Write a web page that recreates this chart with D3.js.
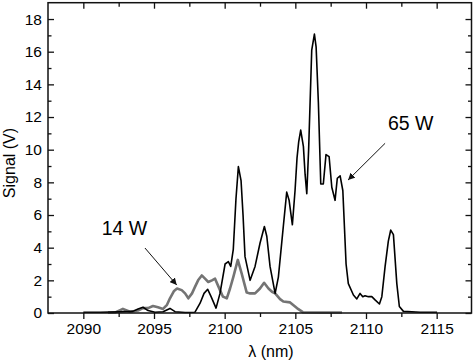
<!DOCTYPE html>
<html>
<head>
<meta charset="utf-8">
<script src="https://cdn.jsdelivr.net/npm/d3@7"></script>
<style>
  html, body { margin: 0; padding: 0; background: #fff; }
  svg text { font-family: Arial, "Liberation Sans", sans-serif; fill: #000; }
</style>
</head>
<body>
<svg id="chart" width="474" height="361"></svg>
<script>
// ---- data ----
const wl65 = [2090.0,2091.2,2092.6,2093.5,2093.87,2094.22,2094.58,2095.07,2095.64,2096.13,2096.49,2097.2,2097.9,
  2098.26,2098.54,2098.8,2099.04,2099.39,2099.67,2100.03,2100.26,2100.43,2100.61,2100.8,2100.97,2101.16,2101.3,
  2101.44,2101.8,2102.15,2102.5,2102.81,2102.98,2103.21,2103.57,2103.8,2104.15,2104.39,2104.56,2104.79,2104.98,
  2105.12,2105.24,2105.38,2105.57,2105.69,2105.81,2105.94,2106.16,2106.35,2106.47,2106.63,2106.8,2106.98,2107.17,
  2107.39,2107.58,2107.81,2107.97,2108.17,2108.36,2108.59,2108.75,2109.11,2109.35,2109.58,2109.77,2109.93,2110.17,
  2110.41,2110.64,2110.95,2111.12,2111.35,2111.58,2111.75,2111.94,2112.18,2112.36,2112.65,2113.83,2115.03];
const sig65 = [0.05,0.05,0.07,0.1,0.25,0.35,0.15,0.05,0.08,0.28,0.08,0.03,0.05,
  0.6,1.2,1.45,1.0,0.3,1.2,3.0,3.15,2.85,3.9,7.0,8.96,8.1,6.0,
  3.45,2.0,2.85,4.27,5.3,4.7,2.85,1.2,2.2,5.3,7.4,6.9,5.4,7.5,
  9.5,10.5,11.2,10.2,8.5,7.3,10.0,16.1,17.08,16.3,12.9,7.9,7.9,9.7,
  9.57,7.7,6.9,8.25,8.4,7.5,3.0,1.8,1.1,0.86,1.2,1.0,1.06,1.0,
  1.0,0.8,0.55,1.0,2.84,4.4,5.08,4.8,1.8,0.4,0.1,0.05,0.05];

const wl14 = [2091.75,2092.3,2092.8,2093.3,2093.87,2094.22,2094.58,2094.93,2095.28,2095.64,2095.92,2096.13,2096.42,
  2096.63,2096.96,2097.2,2097.43,2097.69,2097.9,2098.12,2098.38,2098.61,2098.84,2099.1,2099.32,2099.67,2099.88,
  2100.15,2100.38,2100.61,2100.93,2101.21,2101.56,2101.8,2102.15,2102.5,2102.79,2103.1,2103.35,2103.57,2103.92,
  2104.15,2104.63,2104.98,2105.19,2105.53,2106.75,2108.3];
const sig14 = [0.03,0.05,0.25,0.08,0.15,0.3,0.3,0.43,0.35,0.25,0.5,0.9,1.35,
  1.5,1.4,1.2,0.9,1.2,1.6,2.0,2.3,2.1,1.9,2.0,2.1,1.4,1.0,
  0.9,1.5,2.2,3.25,2.4,1.25,1.2,1.2,1.5,1.85,1.5,1.3,1.2,0.85,
  0.7,0.65,0.4,0.25,0.05,0.03,0.03];

const xMajor = [2090, 2095, 2100, 2105, 2110, 2115];
const xMinor = [2092.5, 2097.5, 2102.5, 2107.5, 2112.5];
const yMajor = [0, 2, 4, 6, 8, 10, 12, 14, 16, 18];
const yMinor = [1, 3, 5, 7, 9, 11, 13, 15, 17];

const labels = [
  {text: "14 W", tx: 2091.3, ty: 4.78, from: [2094.36, 3.98], to: [2096.61, 1.71]},
  {text: "65 W", tx: 2111.55, ty: 11.2, from: [2111.35, 10.39], to: [2108.73, 8.14]}
];

// ---- layout ----
const svg = d3.select("#chart");
const L = 48, R = 471.5, T = 2.7, B = 313;
const x = d3.scaleLinear().domain([2087.5, 2117.5]).range([L, R + 0.5]);
const y = d3.scaleLinear().domain([0, 19]).range([B, T]);

const defs = svg.append("defs");
defs.append("marker").attr("id", "ah").attr("viewBox", "0 0 10 10")
  .attr("refX", 10).attr("refY", 5).attr("markerWidth", 7).attr("markerHeight", 7)
  .attr("markerUnits", "userSpaceOnUse").attr("orient", "auto")
  .append("path").attr("d", "M0,0 L10,5 L0,10 Z").attr("fill", "#111");

// curves
const line = d3.line().x(d => x(d[0])).y(d => y(d[1]));
svg.append("path").datum(wl14.map((w, i) => [w, sig14[i]]))
  .attr("d", line).attr("fill", "none").attr("stroke", "#747474")
  .attr("stroke-width", 2.6).attr("stroke-linejoin", "round");
svg.append("path").datum(wl65.map((w, i) => [w, sig65[i]]))
  .attr("d", line).attr("fill", "none").attr("stroke", "#000")
  .attr("stroke-width", 1.6).attr("stroke-linejoin", "round");

// frame
svg.append("rect").attr("x", L).attr("y", T).attr("width", R - L).attr("height", B - T)
  .attr("fill", "none").attr("stroke", "#111").attr("stroke-width", 1.5);

// bottom axis (outward ticks)
const gB = svg.append("g").attr("transform", `translate(0,${B})`)
  .call(d3.axisBottom(x).tickValues(xMajor).tickSize(6).tickPadding(4).tickFormat(d3.format("d")));
svg.append("g").attr("transform", `translate(0,${B})`)
  .call(d3.axisBottom(x).tickValues(xMinor).tickSize(4).tickFormat(""));
// top axis (inward ticks)
svg.append("g").attr("transform", `translate(0,${T})`)
  .call(d3.axisTop(x).tickValues(xMajor).tickSize(-6).tickFormat(""));
svg.append("g").attr("transform", `translate(0,${T})`)
  .call(d3.axisTop(x).tickValues(xMinor).tickSize(-4).tickFormat(""));
// left axis (inward ticks)
const gL = svg.append("g").attr("transform", `translate(${L},0)`)
  .call(d3.axisLeft(y).tickValues(yMajor).tickSize(-6).tickPadding(6).tickFormat(d3.format("d")));
svg.append("g").attr("transform", `translate(${L},0)`)
  .call(d3.axisLeft(y).tickValues(yMinor).tickSize(-3.5).tickFormat(""));
// right axis (inward ticks)
svg.append("g").attr("transform", `translate(${R},0)`)
  .call(d3.axisRight(y).tickValues(yMajor).tickSize(-6).tickFormat(""));
svg.append("g").attr("transform", `translate(${R},0)`)
  .call(d3.axisRight(y).tickValues(yMinor).tickSize(-3.5).tickFormat(""));

svg.selectAll(".domain").remove();
svg.selectAll(".tick line").attr("stroke", "#111").attr("stroke-width", 1.3);
gB.selectAll("text").attr("font-size", 15.5).attr("fill", "#000")
  .style("font-family", "Arial, 'Liberation Sans', sans-serif");
gL.selectAll("text").attr("font-size", 15.5).attr("fill", "#000")
  .attr("x", -6).style("font-family", "Arial, 'Liberation Sans', sans-serif");

// axis titles
svg.append("text").attr("x", 271).attr("y", 357).attr("text-anchor", "middle")
  .attr("font-size", 16).text("λ (nm)");
svg.append("text").attr("transform", "translate(15,163) rotate(-90)")
  .attr("text-anchor", "middle").attr("font-size", 16).text("Signal (V)");

// annotations
labels.forEach(a => {
  svg.append("text").attr("x", x(a.tx)).attr("y", y(a.ty))
    .attr("font-size", 19.5).text(a.text);
  svg.append("line")
    .attr("x1", x(a.from[0])).attr("y1", y(a.from[1]))
    .attr("x2", x(a.to[0])).attr("y2", y(a.to[1]))
    .attr("stroke", "#111").attr("stroke-width", 1).attr("marker-end", "url(#ah)");
});
</script>
</body>
</html>
